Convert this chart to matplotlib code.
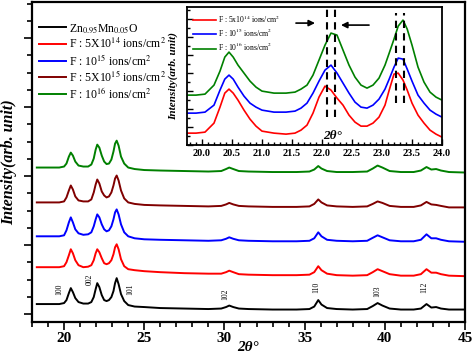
import matplotlib
matplotlib.use("Agg")
import matplotlib.pyplot as plt
from matplotlib.ticker import MultipleLocator

plt.rcParams['font.family'] = ['Liberation Serif', 'DejaVu Serif']
plt.rcParams['mathtext.fontset'] = 'stix'

# -----------------------------
# Main XRD patterns (2theta, stacked intensity, arb. units)
# -----------------------------
two_theta = [18.3, 19.0, 19.7, 20.0, 20.15, 20.3, 20.42, 20.55, 20.7, 20.9,
             21.2, 21.5, 21.7, 21.85, 21.97, 22.07, 22.2, 22.35, 22.5, 22.65,
             22.8, 22.95, 23.08, 23.18, 23.28, 23.4, 23.55, 23.75, 24.0, 24.4,
             25.0, 26.0, 27.5, 29.0, 29.8, 30.1, 30.3, 30.55, 30.9, 31.5,
             33.0, 34.5, 35.3, 35.6, 35.85, 36.05, 36.4, 37.0, 38.0, 38.9,
             39.25, 39.55, 39.85, 40.3, 41.0, 41.8, 42.25, 42.6, 42.9, 43.2,
             43.5, 44.0, 45.0]

pristine = [18, 18, 18, 19, 22, 29, 34, 30, 24, 20,
            18.5, 18.5, 20, 25, 33, 39, 35, 27, 22, 21,
            22, 25, 31, 39, 44, 38, 28, 21, 17, 15.5,
            15, 14, 13.5, 13, 13.5, 15, 16.5, 15, 13.5, 13,
            12.5, 12.5, 13, 15.5, 22, 17.5, 14, 13, 12.5, 13,
            16, 19, 16.5, 13.5, 12.5, 12.5, 13.5, 18, 14.5, 15,
            13.5, 12.5, 12.5]

f_5e14 = [55, 55, 55, 56, 60, 67, 73, 69, 62, 57,
          55, 55.5, 57, 62, 69, 73, 70, 64, 59, 58,
          59, 62, 68, 75, 78, 73, 63, 56, 53, 52,
          51, 50, 49, 48.5, 48.5, 50, 51.5, 50, 48, 47.5,
          47, 47, 47.5, 50, 56, 52, 48.5, 47, 46.5, 47,
          50, 53, 51, 48, 46.5, 46.5, 48, 53, 49.5, 49.5,
          48, 46.5, 46]

f_1e15 = [86, 86, 86, 87, 92, 100, 105, 100, 93, 89,
          87.5, 88, 90, 96, 103, 108, 105, 98, 93, 91,
          92, 96, 103, 110, 113, 108, 98, 90, 86, 84,
          83, 82.5, 82, 81.5, 82, 83.5, 85, 83.5, 82, 81.5,
          81, 81, 81.5, 84, 90, 86, 82.5, 81.5, 81, 81.5,
          84.5, 87, 85, 82, 81, 81, 82.5, 88, 84, 84,
          82.5, 81, 80.5]

f_5e15 = [120, 120, 120, 121, 125, 132, 137, 133, 126, 122,
          121, 121, 123, 130, 138, 143, 139, 131, 127, 125,
          126, 130, 137, 144, 147, 142, 132, 124, 120, 118.5,
          117.5, 117, 116.5, 116, 116.5, 118, 119.5, 118, 116.5, 116,
          115.5, 115.5, 116, 118.5, 123, 120, 117, 116, 115.5, 116,
          118.5, 121, 119.5, 116.5, 115.5, 115.5, 117, 120.5, 118, 117.5,
          116.5, 115, 115]

f_1e16 = [155, 155, 155, 156, 159, 166, 170, 167, 161, 157,
          156, 156, 158, 164, 173, 178, 175, 167, 161, 158.5,
          159, 163, 171, 179, 182, 177, 166, 159, 155, 153.5,
          152.5, 152, 151.5, 151, 151.5, 153.5, 155, 153.5, 151.5, 151,
          150.5, 150.5, 151, 153, 156.5, 154, 151.5, 150.5, 150.5, 151,
          154, 157, 155, 151.5, 150.5, 150.5, 152, 155.5, 153, 153.5,
          152, 150.5, 150]

main_series = [pristine, f_5e14, f_1e15, f_5e15, f_1e16]
main_labels = ["Zn$_{0.95}$Mn$_{0.05}$O",
               "F : 5X10$^{14}$ ions/cm$^{2}$",
               "F : 10$^{15}$ ions/cm$^{2}$",
               "F : 5X10$^{15}$ ions/cm$^{2}$",
               "F : 10$^{16}$ ions/cm$^{2}$"]
main_colors = ["black", "#ff0000", "#0000ff", "#800000", "#008000"]

# Miller indices of the reflections
hkl = ["100", "002", "101", "102", "110", "103", "112"]
hkl_x = [19.7, 21.6, 24.1, 30.05, 35.7, 39.5, 42.45]
hkl_y = [33, 43, 33, 28, 35, 31, 35]

# -----------------------------
# Inset (zoom on 20-24 deg)
# -----------------------------
two_theta_in = [19.75, 19.9, 20.05, 20.2, 20.3, 20.38, 20.45, 20.52, 20.6, 20.7,
                20.8, 20.9, 21.0, 21.2, 21.4, 21.55, 21.65, 21.75, 21.85, 21.95,
                22.05, 22.15, 22.25, 22.35, 22.45, 22.55, 22.65, 22.75, 22.85, 22.95,
                23.05, 23.12, 23.2, 23.27, 23.35, 23.42, 23.5, 23.6, 23.7, 23.8,
                23.9, 24.0]

in_5e14 = [12, 12, 13, 22, 38, 52, 56, 52, 45, 35,
           26, 19, 14, 12, 11, 12, 15, 20, 32, 48,
           59, 55, 47, 40, 30, 23, 19, 19, 22, 28,
           40, 55, 71, 72, 65, 55, 42, 30, 22, 15,
           11, 8]

in_1e15 = [32, 32, 33, 40, 55, 66, 70, 66, 58, 49,
           42, 38, 35, 33, 33, 34, 37, 42, 52, 64,
           75, 80, 72, 62, 52, 43, 38, 37, 40, 46,
           56, 66, 78, 87, 86, 76, 64, 50, 42, 35,
           31, 28]

in_1e16 = [50, 50, 51, 60, 74, 88, 93, 88, 80, 72,
           64, 58, 54, 52, 52, 53, 56, 60, 70, 85,
           100, 112, 110, 95, 80, 68, 60, 57, 60, 67,
           80, 92, 106, 119, 125, 116, 100, 78, 63, 53,
           48, 45]

inset_series = [in_5e14, in_1e15, in_1e16]
inset_labels = ["F : 5x10$^{14}$ ions/cm$^{2}$",
                "F : 10$^{15}$ ions/cm$^{2}$",
                "F : 10$^{16}$ ions/cm$^{2}$"]
inset_colors = ["#ff0000", "#0000ff", "#008000"]

# peak shift markers
shift_x = [22.08, 22.22, 23.23, 23.37]
shift_ymin = [28, 28, 42, 42]
shift_ymax = [137, 137, 132, 132]


def main():
    fig = plt.figure(figsize=(4.74, 3.54), dpi=100)
    ax = fig.add_axes([0.0675, 0.0904, 0.9135, 0.9036])

    for y, lab, col in zip(main_series, main_labels, main_colors):
        ax.plot(two_theta, y, color=col, lw=1.4, label=lab)

    for t, x, y in zip(hkl, hkl_x, hkl_y):
        ax.text(x, y, t, rotation=90, fontsize=5.5, ha="center", va="center")

    ax.set_xlim(18, 45)
    ax.set_ylim(0, 321)
    ax.xaxis.set_major_locator(MultipleLocator(5))
    ax.xaxis.set_minor_locator(MultipleLocator(1))
    ax.yaxis.set_major_locator(MultipleLocator(69.2, offset=8))
    ax.yaxis.set_minor_locator(MultipleLocator(17.3, offset=8))
    ax.tick_params(which="both", direction="out", width=1.2)
    ax.tick_params(which="major", length=6)
    ax.tick_params(which="minor", length=3.5)
    ax.tick_params(axis="x", labelsize=11, pad=1)
    ax.set_yticklabels([])
    for lbl in ax.get_xticklabels():
        lbl.set_fontweight("bold")
    for sp in ax.spines.values():
        sp.set_linewidth(1.6)

    ax.set_xlabel("2θ°", fontsize=11, fontweight="bold", fontstyle="italic",
                  labelpad=-3)
    ax.set_ylabel("Intensity(arb. unit)", fontsize=11.5, fontweight="bold",
                  fontstyle="italic", labelpad=1)

    ax.legend(loc="upper left", bbox_to_anchor=(0.0, 0.96), frameon=False,
              fontsize=8.5, handlelength=2.3, handletextpad=0.2,
              labelspacing=0.15, borderaxespad=0.2)

    # -----------------------------
    # Inset
    # -----------------------------
    ax_in = fig.add_axes([0.3945, 0.590, 0.538, 0.390])
    for y, lab, col in zip(inset_series, inset_labels, inset_colors):
        ax_in.plot(two_theta_in, y, color=col, lw=1.2, label=lab)

    ax_in.vlines(shift_x, shift_ymin, shift_ymax, colors="black",
                 linestyles=(0, (3.5, 2.5)), lw=1.5)
    ax_in.annotate("", xy=(21.93, 122), xytext=(21.52, 122),
                   arrowprops=dict(arrowstyle="-|>", color="black", lw=1.2,
                                   mutation_scale=9))
    ax_in.annotate("", xy=(22.27, 120), xytext=(22.83, 120),
                   arrowprops=dict(arrowstyle="-|>", color="black", lw=1.2,
                                   mutation_scale=9))
    ax_in.text(22.18, 9, "2θ°", fontsize=9.5, fontweight="bold",
               fontstyle="italic", ha="center", va="center")

    ax_in.set_xlim(19.75, 24.0)
    ax_in.set_ylim(0, 138)
    ax_in.xaxis.set_major_locator(MultipleLocator(0.5))
    ax_in.xaxis.set_minor_locator(MultipleLocator(0.1))
    ax_in.yaxis.set_major_locator(MultipleLocator(18))
    ax_in.yaxis.set_minor_locator(MultipleLocator(9))
    ax_in.tick_params(which="both", direction="in", width=1)
    ax_in.tick_params(which="major", length=4)
    ax_in.tick_params(which="minor", length=2.5)
    ax_in.tick_params(axis="x", labelsize=7.5, pad=3)
    ax_in.set_yticklabels([])
    ax_in.xaxis.set_major_formatter(plt.FormatStrFormatter("%.1f"))
    for lbl in ax_in.get_xticklabels():
        lbl.set_fontweight("bold")
    for sp in ax_in.spines.values():
        sp.set_linewidth(1.3)
    ax_in.set_ylabel("Intensity(arb. unit)", fontsize=8, fontweight="bold",
                     fontstyle="italic", labelpad=3)
    ax_in.legend(loc="upper left", frameon=False, fontsize=5.5,
                 handlelength=3.0, handletextpad=0.3, labelspacing=0.3,
                 borderaxespad=0.4)

    fig.savefig("out.png", dpi=100)


if __name__ == "__main__":
    main()
